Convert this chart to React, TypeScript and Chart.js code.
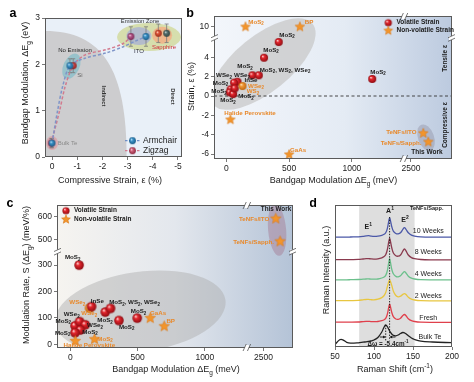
import React, { useEffect, useRef } from 'react';
import { Chart, registerables } from 'chart.js';

Chart.register(...registerables);

const FONT = '"Liberation Sans", Arial, Helvetica, sans-serif';
const OR = '#e8892b';
const TXT = '#1c1c1c';

/* ---------------- panel a ---------------- */
const aXTicks = [0, -1, -2, -3, -4, -5];
const aYTicks = [0, 1, 2, 3];
const aSites = ['Bulk Te', 'Si', 'ITO', 'Sapphire'];
const armStrain = [0.0, -0.71, -3.73, -4.55];
const armGap = [0.3, 1.97, 2.6, 2.67];
const armErr = [0.1, 0.15, 0.21, 0.2];
const zigStrain = [0.03, -0.84, -3.13, -4.22];
const zigGap = [0.3, 1.97, 2.6, 2.67];
const zigErr = [0.1, 0.15, 0.21, 0.2];
const armTrendStrain = [0.0, -0.22, -0.42, -0.71, -1.3, -2.17, -2.83, -3.3, -3.73];
const armTrendGap = [0.3, 1.0, 1.52, 1.97, 2.13, 2.25, 2.38, 2.5, 2.6];
const zigTrendStrain = [0.03, -0.3, -0.52, -0.84, -1.3, -2.17, -2.83, -3.13];
const zigTrendGap = [0.3, 1.0, 1.52, 1.97, 2.2, 2.32, 2.45, 2.6];

/* ---------------- panel b ---------------- */
const bXTicks = [0, 500, 1000, 2500];
const bYTicks = [-6, -4, -2, 0, 2, 4, 10];
const bVolDE = [417, 300, 207, 258, 88, 61, 34, 26, 53, 66, 1162];
const bVolStrain = [5.58, 3.96, 2.14, 2.14, 1.48, 1.38, 0.69, 0.38, 0.2, 0.79, 1.76];
const bNvName = ['MoS2', 'BP', 'Halide Perovskite', 'GaAs', 'TeNFs/ITO', 'TeNFs/Sapph.'];
const bNvDE = [152, 585, 32, 500, 2598, 2638];
const bNvStrain = [10, 10, -2.4, -6, -3.8, -4.7];
const bWseDE = [128];
const bWseStrain = [1.03];

/* ---------------- panel c ---------------- */
const cXTicks = [0, 500, 1000, 2500];
const cYTicks = [0, 100, 200, 300, 500, 600];
const cVolDE = [65, 158, 260, 299, 361, 497, 35, 69, 111, 74, 35];
const cVolRate = [300, 143, 122, 136, 90, 99, 70, 86, 74, 54, 44];
const cNvName = ['GaAs', 'BP', 'Halide Perovskite', 'MoS2', 'TeNFs/ITO', 'TeNFs/Sapph.'];
const cNvDE = [594, 698, 37, 180, 2592, 2624];
const cNvRate = [101, 70, 14, 21, 593, 492];
const cWseDE = [143];
const cWseRate = [137];

/* ---------------- panel d ---------------- */
const dXTicks = [50, 100, 150, 200];
const dShift = [50, 56, 60, 65, 70, 80, 86, 90, 93, 96, 100, 105, 110, 113, 115, 117, 119, 120, 121, 123, 125, 128, 131, 134, 137, 139, 141, 144, 148, 152, 160, 175, 200];
const dNames = ['10 Weeks', '8 Weeks', '4 Weeks', '2 Weeks', 'Fresh', 'Bulk Te'];
const dColors = ['#4b58a8', '#8a3a4e', '#6cc08c', '#e8c640', '#e0404c', '#222222'];
const dOffsets = [109.7, 87, 67, 46, 24.5, 0];
const d10w = [0.2, 0.2, 0.2, 0.2, 0.3, 0.5, 0.9, 1.4, 1.6, 1.2, 0.9, 1.1, 2.0, 3.0, 4.5, 8.5, 16.5, 19.5, 17, 10, 6, 3.8, 3.4, 4.5, 8, 9.6, 8, 4.5, 2.2, 1.2, 0.5, 0.2, 0.1];
const d8w = [0.3, 0.3, 0.3, 0.3, 0.4, 0.6, 1.0, 1.3, 1.4, 1.1, 0.9, 1.2, 2.2, 3.4, 5.2, 10, 18.5, 21.7, 19, 11.5, 6.8, 4.2, 3.8, 5, 9, 11, 9.2, 5, 2.4, 1.3, 0.5, 0.2, 0.1];
const d4w = [0.2, 0.2, 0.2, 0.2, 0.3, 0.5, 0.8, 1.0, 1.1, 0.9, 0.8, 1.0, 2.0, 3.0, 4.6, 9, 18, 21.7, 18, 10, 6, 3.6, 3.2, 4.2, 7, 8.3, 7, 3.8, 1.8, 1.0, 0.4, 0.2, 0.1];
const d2w = [0.3, 0.3, 0.3, 0.3, 0.4, 0.7, 1.2, 1.5, 1.6, 1.3, 1.2, 1.8, 3.4, 5.5, 8.5, 14, 19.5, 21, 19.8, 15, 9.5, 5.5, 4.2, 4.8, 6.6, 7.3, 6.4, 3.8, 1.8, 1.0, 0.4, 0.2, 0.1];
const dFresh = [0.3, 0.3, 0.3, 0.3, 0.3, 0.5, 0.9, 1.1, 1.2, 0.9, 0.8, 1.0, 1.9, 2.8, 4.2, 8, 15.5, 18.3, 16, 9.5, 5.6, 3.5, 3.2, 4.3, 7, 8, 6.8, 3.8, 1.8, 1.0, 0.4, 0.2, 0.1];
const dBulk = [2.5, 7.2, 7.2, 4.6, 3.8, 4.2, 4.8, 5.2, 5.5, 6.0, 7.0, 9.5, 15, 20, 22, 20.5, 17.5, 16, 14.8, 12.8, 11.6, 11.2, 12, 13.5, 14.5, 14.2, 13.2, 11.2, 9, 7.5, 5.8, 5, 4.3];
const dSpectra = [d10w, d8w, d4w, d2w, dFresh, dBulk];

/* axis-break mappings (broken axes in b and c) */
const bxT = (v: number) => (v <= 1415 ? v : v - 1029);
const byT = (v: number) => (v <= 6 ? v : v - 2.8);
const cxT = (v: number) => (v <= 1312 ? v : v - 1065);
const cyT = (v: number) => (v <= 351 ? v : 398.5 + (v - 500) * 0.856);

/* ---------------- helpers ---------------- */
type Seg = { t: string; k: number };
function parseRich(s: string): Seg[] {
  const out: Seg[] = [];
  let buf = '';
  for (let i = 0; i < s.length; i++) {
    const ch = s[i];
    if ((ch === '_' || ch === '^') && i + 1 < s.length) {
      if (buf) { out.push({ t: buf, k: 0 }); buf = ''; }
      out.push({ t: s[i + 1], k: ch === '_' ? 1 : 2 });
      i++;
    } else buf += ch;
  }
  if (buf) out.push({ t: buf, k: 0 });
  return out;
}
function text(ctx: any, s: string, x: number, y: number, o: any = {}) {
  const size = o.z ?? 6.2;
  const segs = parseRich(s);
  const fontFor = (k: number) => `${o.b === false ? '' : 'bold '}${k ? size * 0.72 : size}px ${FONT}`;
  let w = 0;
  const widths = segs.map((sg) => { ctx.font = fontFor(sg.k); const m = ctx.measureText(sg.t).width; w += m; return m; });
  ctx.save();
  ctx.translate(x, y);
  if (o.r) ctx.rotate((o.r * Math.PI) / 180);
  let cx = o.a === 'left' ? 0 : o.a === 'right' ? -w : -w / 2;
  ctx.fillStyle = o.c ?? TXT;
  ctx.textBaseline = 'middle';
  ctx.textAlign = 'left';
  segs.forEach((sg, i) => {
    ctx.font = fontFor(sg.k);
    const dy = sg.k === 1 ? size * 0.32 : sg.k === 2 ? -size * 0.38 : 0;
    ctx.fillText(sg.t, cx, dy);
    cx += widths[i];
  });
  ctx.restore();
}
function notes(chart: any, ox: number, oy: number, list: any[]) {
  const ctx = chart.ctx;
  ctx.save();
  ctx.translate(-ox, -oy);
  list.forEach((n) => text(ctx, n.s, n.x, n.y, n));
  ctx.restore();
}
function ellipse(ctx: any, x: number, y: number, rx: number, ry: number, rot: number, fill: string) {
  ctx.beginPath();
  ctx.ellipse(x, y, rx, ry, (rot * Math.PI) / 180, 0, Math.PI * 2);
  ctx.fillStyle = fill;
  ctx.fill();
}
function frame(chart: any) {
  const { ctx, chartArea: ca } = chart;
  ctx.save();
  ctx.strokeStyle = '#5a5a5a';
  ctx.lineWidth = 1;
  ctx.strokeRect(ca.left + 0.5, ca.top + 0.5, ca.width - 1, ca.height - 1);
  ctx.restore();
}
function breakV(ctx: any, x: number, y: number) {
  ctx.save();
  ctx.fillStyle = '#fff';
  ctx.fillRect(x - 2.5, y - 2, 5, 4);
  ctx.strokeStyle = '#555';
  ctx.lineWidth = 0.8;
  ctx.beginPath();
  ctx.moveTo(x - 3.5, y - 0.2); ctx.lineTo(x + 3.5, y - 3.4);
  ctx.moveTo(x - 3.5, y + 3.4); ctx.lineTo(x + 3.5, y + 0.2);
  ctx.stroke();
  ctx.restore();
}
function breakH(ctx: any, x: number, y: number) {
  ctx.save();
  ctx.fillStyle = '#fff';
  ctx.fillRect(x - 2, y - 2.5, 4, 5);
  ctx.strokeStyle = '#555';
  ctx.lineWidth = 0.8;
  ctx.beginPath();
  ctx.moveTo(x - 3.8, y + 3.5); ctx.lineTo(x - 0.6, y - 3.5);
  ctx.moveTo(x + 0.6, y + 3.5); ctx.lineTo(x + 3.8, y - 3.5);
  ctx.stroke();
  ctx.restore();
}
function makeSphere(r: number, light: string, base: string, dark: string) {
  const c = document.createElement('canvas');
  const s = Math.ceil(2 * r + 2);
  c.width = s; c.height = s;
  const g = c.getContext('2d')!;
  const m = s / 2;
  const grad = g.createRadialGradient(m - r * 0.35, m - r * 0.4, r * 0.05, m, m, r);
  grad.addColorStop(0, light);
  grad.addColorStop(0.35, base);
  grad.addColorStop(1, dark);
  g.fillStyle = grad;
  g.beginPath(); g.arc(m, m, r, 0, Math.PI * 2); g.fill();
  return c;
}
function makeStar(R: number, fill: string, stroke: string) {
  const c = document.createElement('canvas');
  const s = Math.ceil(2 * R + 2);
  c.width = s; c.height = s;
  const g = c.getContext('2d')!;
  const m = s / 2;
  g.beginPath();
  for (let i = 0; i < 10; i++) {
    const ang = -Math.PI / 2 + (i * Math.PI) / 5;
    const rad = i % 2 ? R * 0.45 : R;
    const px = m + rad * Math.cos(ang), py = m + 0.5 + rad * Math.sin(ang);
    if (i === 0) g.moveTo(px, py); else g.lineTo(px, py);
  }
  g.closePath();
  g.fillStyle = fill; g.fill();
  g.strokeStyle = stroke; g.lineWidth = 0.6; g.stroke();
  return c;
}
const tickFont = { family: FONT, size: 8.5 };
function mkAxis(min: number, max: number, vals: number[], labels: string[], fit: (s: any) => void, extra: any = {}) {
  return {
    type: 'linear',
    min,
    max,
    afterBuildTicks: (s: any) => { s.ticks = vals.map((v) => ({ value: v })); },
    afterFit: fit,
    ticks: { autoSkip: false, maxRotation: 0, minRotation: 0, padding: 2, color: '#222', font: tickFont, callback: (_v: any, i: number) => labels[i] },
    grid: { drawOnChartArea: false, drawTicks: true, tickLength: 3, color: '#555', lineWidth: 0.8 },
    border: { display: false },
    ...extra,
  };
}
const baseOpts = (pad: any) => ({
  responsive: false,
  animation: false,
  devicePixelRatio: 1,
  events: [],
  layout: { padding: pad },
  plugins: { legend: { display: false }, tooltip: { enabled: false } },
});
const xy = (xs: number[], ys: number[], fx = (v: number) => v, fy = (v: number) => v) => xs.map((v, i) => ({ x: fx(v), y: fy(ys[i]) }));

/* annotation layouts (page coordinates) */
const aNotes = [
  { s: 'Emission Zone', x: 140, y: 21, z: 5.8, b: false, c: '#333' },
  { s: 'ITO', x: 139, y: 51, z: 6, b: false, c: '#334' },
  { s: 'Sapphire', x: 164, y: 47.5, z: 6, b: false, c: '#d0303c' },
  { s: 'No Emission', x: 75, y: 50, z: 6, b: false, c: '#222' },
  { s: 'Si', x: 80, y: 75, z: 6, b: false, c: '#666' },
  { s: 'Bulk Te', x: 67.5, y: 143, z: 6, b: false, c: '#8a8a8a' },
  { s: 'Indirect', x: 103.5, y: 96, z: 5.8, r: 90, c: '#333' },
  { s: 'Direct', x: 172.7, y: 96.5, z: 5.8, r: 90, c: '#333' },
  { s: 'Armchair', x: 143, y: 140.7, z: 8.5, b: false, a: 'left', c: '#222' },
  { s: 'Zigzag', x: 143, y: 150.7, z: 8.5, b: false, a: 'left', c: '#222' },
  { s: 'Compressive Strain, ε (%)', x: 110, y: 180.5, z: 9, b: false, c: '#222' },
  { s: 'Bandgap Modulation, ΔE_g (eV)', x: 26, y: 83, z: 9, b: false, r: -90, c: '#222' },
  { s: 'a', x: 13, y: 14, z: 12.5, c: '#000' },
];
const bNotes = [
  { s: 'MoS_2', x: 287, y: 35 },
  { s: 'MoS_2', x: 271, y: 50 },
  { s: 'MoS_2', x: 245, y: 66.5 },
  { s: 'MoS_2, WS_2, WSe_2', x: 285, y: 70 },
  { s: 'WSe_2', x: 224, y: 75.5 },
  { s: 'WSe_2', x: 242, y: 75.5 },
  { s: 'InSe', x: 251, y: 80.5 },
  { s: 'MoS_2', x: 220.5, y: 83 },
  { s: 'MoS_2', x: 219, y: 91.5 },
  { s: 'MoS_2', x: 246, y: 96.5 },
  { s: 'MoS_2', x: 228, y: 100.5 },
  { s: 'MoS_2', x: 378, y: 72 },
  { s: 'MoS_2', x: 256, y: 22, c: OR },
  { s: 'BP', x: 309, y: 22, c: OR },
  { s: 'WSe_2', x: 256, y: 86, c: OR },
  { s: 'WS_2', x: 253, y: 91.5, c: OR },
  { s: 'Halide Perovskite', x: 250, y: 113.5, c: OR },
  { s: 'GaAs', x: 298, y: 150, c: OR },
  { s: 'TeNFs/ITO', x: 416.5, y: 132.7, c: OR, a: 'right' },
  { s: 'TeNFs/Sapph.', x: 421.5, y: 143.7, c: OR, a: 'right' },
  { s: 'This Work', x: 427, y: 152.7, z: 6.5 },
  { s: 'Tensile ε', x: 445.7, y: 58.3, z: 6.5, r: -90 },
  { s: 'Compressive ε', x: 445.7, y: 125, z: 6.5, r: -90 },
  { s: 'Volatile Strain', x: 396.5, y: 22.7, z: 6.5, a: 'left' },
  { s: 'Non-volatile Strain', x: 396.5, y: 30.2, z: 6.5, a: 'left' },
  { s: 'Bandgap Modulation ΔE_g (meV)', x: 333.5, y: 181, z: 9, b: false, c: '#222' },
  { s: 'Strain, ε (%)', x: 192, y: 86.5, z: 9, b: false, r: -90, c: '#222' },
  { s: 'b', x: 190, y: 14, z: 12.5, c: '#000' },
];
const cNotes = [
  { s: 'MoS_2', x: 72.7, y: 257.7 },
  { s: 'InSe', x: 97.3, y: 301 },
  { s: 'MoS_2, WS_2, WSe_2', x: 134.5, y: 302.3 },
  { s: 'MoS_2', x: 138.5, y: 311.7 },
  { s: 'WSe_2', x: 71.7, y: 314.3 },
  { s: 'MoS_2', x: 63.3, y: 321 },
  { s: 'MoS_2', x: 105, y: 320.3 },
  { s: 'WSe_2', x: 95, y: 325.7 },
  { s: 'MoS_2', x: 126.7, y: 327 },
  { s: 'MoS_2', x: 62.7, y: 333 },
  { s: 'MoS_2', x: 90, y: 332 },
  { s: 'WSe_2', x: 77.3, y: 302.7, c: OR },
  { s: 'WSe_2', x: 89.3, y: 313.7, c: OR },
  { s: 'MoS_2', x: 105, y: 339, c: OR },
  { s: 'Halide Perovskite', x: 89.3, y: 345.7, c: OR },
  { s: 'GaAs', x: 158, y: 313, c: OR },
  { s: 'BP', x: 170.7, y: 321.7, c: OR },
  { s: 'This Work', x: 276, y: 209.3, z: 6.3 },
  { s: 'TeNFs/ITO', x: 269.3, y: 219, c: OR, a: 'right' },
  { s: 'TeNFs/Sapph.', x: 274, y: 242.3, c: OR, a: 'right' },
  { s: 'Volatile Strain', x: 74, y: 210.7, z: 6.5, a: 'left' },
  { s: 'Non-volatile Strain', x: 74, y: 219, z: 6.5, a: 'left' },
  { s: 'Bandgap Modulation ΔE_g (meV)', x: 176, y: 370, z: 9, b: false, c: '#222' },
  { s: 'Modulation Rate, S (ΔE_g) (meV/%)', x: 27, y: 275, z: 9, b: false, r: -90, c: '#222' },
  { s: 'c', x: 10, y: 204, z: 12.5, c: '#000' },
];
const dNotes = [
  { s: 'TeNFs/Sapp.', x: 426.7, y: 208.5, z: 5.6 },
  { s: 'A^1', x: 390, y: 211, z: 7 },
  { s: 'E^1', x: 368.3, y: 227.3, z: 7 },
  { s: 'E^2', x: 405, y: 220, z: 7 },
  { s: '10 Weeks', x: 428.3, y: 230.7, z: 7, b: false },
  { s: '8 Weeks', x: 428.3, y: 252.3, z: 7, b: false },
  { s: '4 Weeks', x: 428.3, y: 274, z: 7, b: false },
  { s: '2 Weeks', x: 428.3, y: 295.7, z: 7, b: false },
  { s: 'Fresh', x: 428.3, y: 317.7, z: 7, b: false },
  { s: 'Bulk Te', x: 430, y: 336.7, z: 7, b: false },
  { s: 'Δω = -5.4cm^-^1', x: 388, y: 344, z: 6.3 },
  { s: 'Raman Shift (cm^-^1)', x: 395, y: 370, z: 9, b: false, c: '#222' },
  { s: 'Raman Intensity (a.u.)', x: 327, y: 270, z: 9, b: false, r: -90, c: '#222' },
  { s: 'd', x: 313, y: 204, z: 12.5, c: '#000' },
];
const aZones = [
  { x: -3.85, y: 2.59, rx: 32, ry: 14, rot: 0, fill: 'rgba(210,218,160,0.85)' },
  { x: -3.45, y: 2.61, rx: 12.5, ry: 9, rot: 0, fill: 'rgba(160,168,220,0.65)' },
  { x: -4.37, y: 2.63, rx: 10, ry: 8.5, rot: 0, fill: 'rgba(245,170,130,0.75)' },
  { x: -0.77, y: 1.96, rx: 8, ry: 13.5, rot: 25, fill: 'rgba(110,185,200,0.55)' },
  { x: 0.0, y: 0.3, rx: 6, ry: 7, rot: 0, fill: 'rgba(225,140,150,0.55)' },
];
const bZones = [
  { e: 290, s: 3.3, rx: 64, ry: 28, rot: -39, fill: 'rgba(200,200,200,0.75)' },
  { e: 2620, s: -4.29, rx: 8, ry: 13.5, rot: -20, fill: 'rgba(140,140,160,0.4)' },
];
const cZones = [
  { e: 520, r: 123, rx: 86, ry: 40, rot: -8, fill: 'rgba(170,170,170,0.45)' },
  { e: 2602, r: 541, rx: 9, ry: 26, rot: -5, fill: 'rgba(165,120,145,0.45)' },
];

export default function App() {
  const ra = useRef<HTMLCanvasElement>(null);
  const rb = useRef<HTMLCanvasElement>(null);
  const rc = useRef<HTMLCanvasElement>(null);
  const rd = useRef<HTMLCanvasElement>(null);

  useEffect(() => {
    const redB = makeSphere(4, '#ffd8d8', '#e3262d', '#8e0c12');
    const redC = makeSphere(4.8, '#ffd8d8', '#e3262d', '#8e0c12');
    const redL = makeSphere(3.6, '#ffd8d8', '#e3262d', '#8e0c12');
    const orB = makeSphere(4, '#ffe6c4', '#f29a38', '#c0650f');
    const orC = makeSphere(4.8, '#ffe6c4', '#f29a38', '#c0650f');
    const starB = makeStar(5, '#f2952c', '#d9781a');
    const starC = makeStar(5.5, '#f2952c', '#d9781a');
    const starL = makeStar(4.6, '#f2952c', '#d9781a');
    const armImgs = [
      makeSphere(3.4, '#d8f0ff', '#3a92c8', '#1b5e8a'),
      makeSphere(3.4, '#d8f0ff', '#3a92c8', '#1b5e8a'),
      makeSphere(3.4, '#d8f0ff', '#3a92c8', '#1b5e8a'),
      makeSphere(3.4, '#dfeeee', '#55706e', '#2f4443'),
    ];
    const zigImgs = [
      makeSphere(3.4, '#ffe0e8', '#d0607a', '#8e2a42'),
      makeSphere(3.4, '#ffe0e0', '#d04848', '#8e2020'),
      makeSphere(3.4, '#f8e0f0', '#b8588a', '#7a2a55'),
      makeSphere(3.4, '#ffe6d8', '#e0563c', '#9a2a18'),
    ];

    /* ---- panel a ---- */
    const pa = {
      id: 'pa',
      beforeDraw(chart: any) {
        const { ctx, chartArea: ca } = chart;
        ctx.save();
        ctx.fillStyle = '#e9f0f8';
        ctx.fillRect(ca.left, ca.top, ca.width, ca.height);
        ctx.restore();
      },
      beforeDatasetsDraw(chart: any) {
        const { ctx, chartArea: ca, scales: { x, y } } = chart;
        ctx.save();
        ctx.beginPath(); ctx.rect(ca.left, ca.top, ca.width, ca.height); ctx.clip();
        // indirect-gap region
        const x0 = x.getPixelForValue(0.28), y0 = y.getPixelForValue(0);
        const yT = y.getPixelForValue(2.72), xR = x.getPixelForValue(-2.96);
        const w = xR - x0, h = y0 - yT;
        ctx.beginPath();
        ctx.moveTo(x0, yT);
        ctx.bezierCurveTo(x0 + 0.7 * w, yT, xR, y0 - 0.7 * h, xR, y0);
        ctx.lineTo(x0, y0);
        ctx.closePath();
        ctx.fillStyle = '#cdcdcf';
        ctx.fill();
        aZones.forEach((z) => ellipse(ctx, x.getPixelForValue(z.x), y.getPixelForValue(z.y), z.rx, z.ry, z.rot, z.fill));
        // error bars
        ctx.strokeStyle = '#7a7a7a';
        ctx.lineWidth = 0.8;
        const eb = (xs: number[], ys: number[], es: number[]) =>
          xs.forEach((xv, i) => {
            const px = x.getPixelForValue(xv);
            const t = y.getPixelForValue(ys[i] + es[i]);
            const b = y.getPixelForValue(ys[i] - es[i]);
            ctx.beginPath();
            ctx.moveTo(px, t); ctx.lineTo(px, b);
            ctx.moveTo(px - 2, t); ctx.lineTo(px + 2, t);
            ctx.moveTo(px - 2, b); ctx.lineTo(px + 2, b);
            ctx.stroke();
          });
        eb(armStrain, armGap, armErr);
        eb(zigStrain, zigGap, zigErr);
        ctx.restore();
      },
      afterDraw(chart: any) {
        frame(chart);
        const ctx = chart.ctx;
        // legend markers
        const leg = [
          { y: 140.7, c: '#6f8fc8', img: armImgs[0] },
          { y: 150.7, c: '#d27a8e', img: zigImgs[0] },
        ];
        ctx.save();
        leg.forEach((l) => {
          ctx.strokeStyle = l.c;
          ctx.lineWidth = 1.3;
          ctx.setLineDash([2.5, 1.5]);
          ctx.beginPath(); ctx.moveTo(125, l.y); ctx.lineTo(140, l.y); ctx.stroke();
          ctx.drawImage(l.img, 132.5 - l.img.width / 2, l.y - l.img.height / 2);
        });
        ctx.restore();
        notes(chart, 0, 0, aNotes);
      },
    };
    const ca = new Chart(ra.current!, {
      type: 'scatter',
      data: {
        datasets: [
          { label: 'Armchair', data: xy(armStrain, armGap), pointStyle: armImgs, pointRadius: 3.4, order: 0 },
          { label: 'Zigzag', data: xy(zigStrain, zigGap), pointStyle: zigImgs, pointRadius: 3.4, order: 0 },
          { label: 'Armchair trend', data: xy(armTrendStrain, armTrendGap), showLine: true, tension: 0.3, pointRadius: 0, borderColor: '#7f95c8', borderWidth: 1.5, borderDash: [3, 2], order: 1 },
          { label: 'Zigzag trend', data: xy(zigTrendStrain, zigTrendGap), showLine: true, tension: 0.3, pointRadius: 0, borderColor: '#d27a8e', borderWidth: 1.5, borderDash: [3, 2], order: 1 },
        ],
      },
      options: {
        ...baseOpts({ top: 18, right: 8, left: 0, bottom: 0 }),
        scales: {
          x: mkAxis(-5.16, 0.28, aXTicks, aXTicks.map(String), (s: any) => { s.height = 33; }, { reverse: true }),
          y: mkAxis(0, 3, aYTicks, aYTicks.map(String), (s: any) => { s.width = 45; }),
        },
      },
      plugins: [pa],
    } as any);

    /* ---- panel b ---- */
    const pb = {
      id: 'pb',
      beforeDraw(chart: any) {
        const { ctx, chartArea: a } = chart;
        const g = ctx.createLinearGradient(a.left, 0, a.right, 0);
        g.addColorStop(0, '#f3f6fb');
        g.addColorStop(0.55, '#e4ebf4');
        g.addColorStop(1, '#bccadf');
        ctx.save();
        ctx.fillStyle = g;
        ctx.fillRect(a.left, a.top, a.width, a.height);
        ctx.restore();
      },
      beforeDatasetsDraw(chart: any) {
        const { ctx, chartArea: a, scales: { x, y } } = chart;
        ctx.save();
        ctx.beginPath(); ctx.rect(a.left, a.top, a.width, a.height); ctx.clip();
        bZones.forEach((z) => ellipse(ctx, x.getPixelForValue(bxT(z.e)), y.getPixelForValue(byT(z.s)), z.rx, z.ry, z.rot, z.fill));
        const y0 = y.getPixelForValue(0);
        ctx.setLineDash([3, 2.5]);
        ctx.strokeStyle = '#333';
        ctx.lineWidth = 0.9;
        ctx.beginPath(); ctx.moveTo(a.left, y0); ctx.lineTo(a.right, y0); ctx.stroke();
        ctx.restore();
      },
      afterDraw(chart: any) {
        const { ctx, chartArea: a, scales: { x, y } } = chart;
        frame(chart);
        const bx = x.getPixelForValue(1415), by = y.getPixelForValue(6);
        breakH(ctx, bx, a.bottom - 0.5);
        breakH(ctx, bx, a.top + 0.5);
        breakV(ctx, a.left + 0.5, by);
        breakV(ctx, a.right - 0.5, by);
        ctx.drawImage(redL, 388.3 - 185 - redL.width / 2, 22.7 - redL.height / 2);
        ctx.drawImage(starL, 388.3 - 185 - starL.width / 2, 30.2 - starL.height / 2);
        notes(chart, 185, 0, bNotes);
      },
    };
    const cb = new Chart(rb.current!, {
      type: 'scatter',
      data: {
        datasets: [
          { label: 'Non-volatile Strain', data: xy(bNvDE, bNvStrain, bxT, byT), pointStyle: starB, pointRadius: 5, order: 0 },
          { label: 'WSe2/WS2', data: xy(bWseDE, bWseStrain, bxT, byT), pointStyle: orB, pointRadius: 4, order: 0 },
          { label: 'Volatile Strain', data: xy(bVolDE, bVolStrain, bxT, byT), pointStyle: redB, pointRadius: 4, order: 1 },
        ],
      },
      options: {
        ...baseOpts({ top: 16, right: 22, left: 0, bottom: 0 }),
        scales: {
          x: mkAxis(-99, 1798, bXTicks.map(bxT), bXTicks.map(String), (s: any) => { s.height = 31; }),
          y: mkAxis(-6.51, 8.27, bYTicks.map(byT), bYTicks.map(String), (s: any) => { s.width = 29; }),
        },
      },
      plugins: [pb],
    } as any);

    /* ---- panel c ---- */
    const pc = {
      id: 'pc',
      beforeDraw(chart: any) {
        const { ctx, chartArea: a } = chart;
        const g = ctx.createLinearGradient(a.left, 0, a.right, 0);
        g.addColorStop(0, '#f6f4f0');
        g.addColorStop(0.5, '#e3e7ed');
        g.addColorStop(1, '#b4c3d7');
        ctx.save();
        ctx.fillStyle = g;
        ctx.fillRect(a.left, a.top, a.width, a.height);
        ctx.restore();
      },
      beforeDatasetsDraw(chart: any) {
        const { ctx, chartArea: a, scales: { x, y } } = chart;
        ctx.save();
        ctx.beginPath(); ctx.rect(a.left, a.top, a.width, a.height); ctx.clip();
        cZones.forEach((z) => ellipse(ctx, x.getPixelForValue(cxT(z.e)), y.getPixelForValue(cyT(z.r)), z.rx, z.ry, z.rot, z.fill));
        ctx.restore();
      },
      afterDraw(chart: any) {
        const { ctx, chartArea: a, scales: { x, y } } = chart;
        frame(chart);
        const bx = x.getPixelForValue(1312), by = y.getPixelForValue(351);
        breakH(ctx, bx, a.bottom - 0.5);
        breakH(ctx, bx, a.top + 0.5);
        breakV(ctx, a.left + 0.5, by);
        breakV(ctx, a.right - 0.5, by);
        ctx.drawImage(redL, 66 - redL.width / 2, 210.7 - 190 - redL.height / 2);
        ctx.drawImage(starL, 66 - starL.width / 2, 219 - 190 - starL.height / 2);
        notes(chart, 0, 190, cNotes);
      },
    };
    const cc = new Chart(rc.current!, {
      type: 'scatter',
      data: {
        datasets: [
          { label: 'Non-volatile Strain', data: xy(cNvDE, cNvRate, cxT, cyT), pointStyle: starC, pointRadius: 5, order: 0 },
          { label: 'WSe2', data: xy(cWseDE, cWseRate, cxT, cyT), pointStyle: orC, pointRadius: 4, order: 2 },
          { label: 'Volatile Strain', data: xy(cVolDE, cVolRate, cxT, cyT), pointStyle: redC, pointRadius: 4, order: 1 },
        ],
      },
      options: {
        ...baseOpts({ top: 15, right: 17, left: 0, bottom: 0 }),
        scales: {
          x: mkAxis(-99, 1655, cXTicks.map(cxT), cXTicks.map(String), (s: any) => { s.height = 34; }),
          y: mkAxis(-14, 528, cYTicks.map(cyT), cYTicks.map(String), (s: any) => { s.width = 57; }),
        },
      },
      plugins: [pc],
    } as any);

    /* ---- panel d ---- */
    const pd = {
      id: 'pd',
      beforeDatasetsDraw(chart: any) {
        const { ctx, chartArea: a, scales: { x } } = chart;
        ctx.save();
        const l = x.getPixelForValue(81), r = x.getPixelForValue(152);
        ctx.fillStyle = '#dedede';
        ctx.fillRect(l, a.top, r - l, a.height);
        ctx.restore();
      },
      afterDatasetsDraw(chart: any) {
        const { ctx, scales: { x, y } } = chart;
        ctx.save();
        ctx.strokeStyle = '#111';
        ctx.lineWidth = 0.9;
        ctx.setLineDash([1.4, 1.4]);
        const vline = (xv: number, y1: number, y2: number) => {
          const px = x.getPixelForValue(xv);
          ctx.beginPath(); ctx.moveTo(px, y.getPixelForValue(y1)); ctx.lineTo(px, y.getPixelForValue(y2)); ctx.stroke();
        };
        vline(120, 130, 6.5);
        vline(115, 22, 6.5);
        ctx.setLineDash([]);
        const ay = y.getPixelForValue(10);
        const arrow = (from: number, to: number) => {
          const p1 = x.getPixelForValue(from), p2 = x.getPixelForValue(to);
          const dir = Math.sign(p2 - p1);
          ctx.beginPath(); ctx.moveTo(p1, ay); ctx.lineTo(p2, ay); ctx.stroke();
          ctx.beginPath(); ctx.moveTo(p2, ay); ctx.lineTo(p2 - dir * 2.2, ay - 1.6); ctx.lineTo(p2 - dir * 2.2, ay + 1.6); ctx.closePath();
          ctx.fillStyle = '#111'; ctx.fill();
        };
        arrow(107.5, 114.5);
        arrow(127.5, 120.5);
        ctx.restore();
      },
      afterDraw(chart: any) {
        frame(chart);
        notes(chart, 310, 190, dNotes);
      },
    };
    const cd = new Chart(rd.current!, {
      type: 'scatter',
      data: {
        datasets: dSpectra.map((sp, k) => ({
          label: dNames[k],
          data: dShift.map((v, i) => ({ x: v, y: sp[i] + dOffsets[k] })),
          showLine: true,
          tension: 0.35,
          pointRadius: 0,
          borderColor: dColors[k],
          borderWidth: 1.3,
        })),
      },
      options: {
        ...baseOpts({ top: 15, right: 22, left: 0, bottom: 0 }),
        scales: {
          x: mkAxis(50, 200, dXTicks, dXTicks.map(String), (s: any) => { s.height = 35; }),
          y: {
            type: 'linear', min: 0, max: 142,
            ticks: { display: false }, grid: { display: false }, border: { display: false },
            afterFit: (s: any) => { s.width = 25; },
          },
        },
      },
      plugins: [pd],
    } as any);

    return () => { ca.destroy(); cb.destroy(); cc.destroy(); cd.destroy(); };
  }, []);

  const cs = (l: number, t: number, w: number, h: number): React.CSSProperties => ({ position: 'absolute', left: l, top: t, width: w, height: h });
  return (
    <div style={{ position: 'absolute', left: 0, top: 0, width: 474, height: 382, background: '#fff', overflow: 'hidden' }}>
      <canvas ref={ra} width={190} height={190} style={cs(0, 0, 190, 190)} />
      <canvas ref={rb} width={289} height={190} style={cs(185, 0, 289, 190)} />
      <canvas ref={rc} width={310} height={192} style={cs(0, 190, 310, 192)} />
      <canvas ref={rd} width={164} height={192} style={cs(310, 190, 164, 192)} />
    </div>
  );
}
